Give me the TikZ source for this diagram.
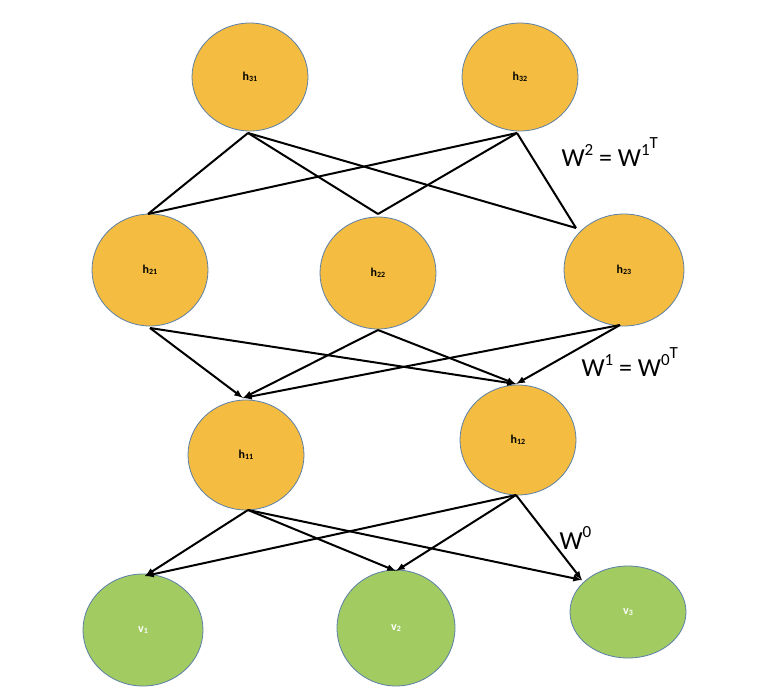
\documentclass[tikz,border=0pt]{standalone}
\usepackage{fontspec}
\setmainfont{Carlito}
\usetikzlibrary{shapes.geometric}
\begin{document}
\begin{tikzpicture}[x=1pt,y=-1pt]
\definecolor{nf}{HTML}{F4BC40}\definecolor{gf}{HTML}{A2CB62}\definecolor{bd}{HTML}{5B7FA8}
\tikzset{hn/.style={ellipse,draw=bd,line width=0.8pt,fill=nf,minimum width=116pt,minimum height=108pt,inner sep=0pt,font=\bfseries\fontsize{12}{12}\selectfont},
 vn/.style={hn,fill=gf,text=white},
 ln/.style={line width=2pt,black},
 ar/.style={ln,-latex},
 lab/.style={font=\fontsize{26}{26}\selectfont,anchor=west}}
\newcommand{\sbs}[1]{\raisebox{-0.25ex}{\fontsize{8}{8}\selectfont #1}}
\newcommand{\sps}[1]{\raisebox{0.9ex}{\fontsize{17}{17}\selectfont #1}}
\useasboundingbox (0,0) rectangle (762,698);
\node[hn] (h31) at (250,77) {h\sbs{31}};
\node[hn] (h32) at (520,77) {h\sbs{32}};
\node[hn,minimum height=112pt] (h21) at (150,270) {h\sbs{21}};
\node[hn,minimum height=112pt] (h22) at (378,273) {h\sbs{22}};
\node[hn,minimum width=120pt,minimum height=112pt] (h23) at (624,270) {h\sbs{23}};
\node[hn,minimum height=110pt] (h11) at (246,455) {h\sbs{11}};
\node[hn,minimum height=110pt] (h12) at (518,440) {h\sbs{12}};
\node[vn,minimum width=120pt,minimum height=112pt] (v1) at (143,630) {v\sbs{1}};
\node[vn,minimum width=118pt,minimum height=116pt] (v2) at (396,628) {v\sbs{2}};
\node[vn,minimum width=116pt,minimum height=92pt] (v3) at (628,612) {v\sbs{3}};
\coordinate (a31) at (248,133); \coordinate (a32) at (517,133);
\coordinate (t21) at (148,214); \coordinate (t22) at (378,214); \coordinate (t23) at (576,228);
\foreach \s in {a31,a32} \foreach \t in {t21,t22,t23} \draw[ln] (\s) -- (\t);
\coordinate (b21) at (150,328); \coordinate (b22) at (378,330); \coordinate (b23) at (620,325);
\coordinate (t11) at (243,398); \coordinate (t12) at (516,384);
\foreach \s in {b21,b22,b23} \foreach \t in {t11,t12} \draw[ar] (\s) -- (\t);
\coordinate (b11) at (248,510); \coordinate (b12) at (516,495);
\coordinate (tv1) at (145,576); \coordinate (tv2) at (396,571); \coordinate (tv3) at (582,580);
\foreach \s in {b11,b12} \foreach \t in {tv1,tv2,tv3} \draw[ar] (\s) -- (\t);
\node[lab] (l2) at (558,152) {W\sps{2} = W\sps{1\sps{T}}};
\node[lab] (l1) at (578,362) {W\sps{1} = W\sps{0\sps{T}}};
\node[lab] (l0) at (556,538) {W\sps{0}};
\end{tikzpicture}
\end{document}
